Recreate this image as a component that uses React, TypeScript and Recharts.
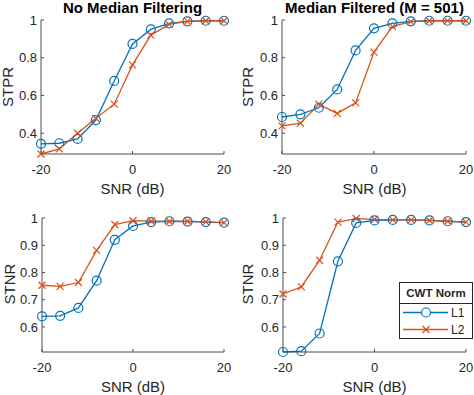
import { LineChart, Line, XAxis, YAxis, Legend } from "recharts";

const snr = [-20, -16, -12, -8, -4, 0, 4, 8, 12, 16, 20];

// STPR, no median filtering
const stprRawL1 = [0.344, 0.347, 0.37, 0.47, 0.677, 0.873, 0.95, 0.982, 0.993, 0.996, 0.996];
const stprRawL2 = [0.29, 0.317, 0.4, 0.479, 0.554, 0.762, 0.92, 0.977, 0.993, 0.996, 0.996];
// STPR, median filtered
const stprMedL1 = [0.486, 0.5, 0.535, 0.632, 0.839, 0.956, 0.982, 0.993, 0.996, 0.996, 0.996];
const stprMedL2 = [0.439, 0.453, 0.554, 0.505, 0.561, 0.83, 0.965, 0.991, 0.996, 0.996, 0.996];
// STNR, no median filtering
const stnrRawL1 = [0.639, 0.641, 0.67, 0.77, 0.92, 0.971, 0.985, 0.988, 0.987, 0.985, 0.983];
const stnrRawL2 = [0.753, 0.749, 0.763, 0.881, 0.976, 0.99, 0.988, 0.988, 0.988, 0.986, 0.983];
// STNR, median filtered
const stnrMedL1 = [0.508, 0.511, 0.576, 0.841, 0.982, 0.991, 0.993, 0.993, 0.991, 0.988, 0.985];
const stnrMedL2 = [0.721, 0.747, 0.845, 0.985, 0.998, 0.995, 0.993, 0.993, 0.991, 0.988, 0.985];

const stprTicks = [0.4, 0.6, 0.8, 1];
const stnrTicks = [0.6, 0.7, 0.8, 0.9, 1];
const snrTicks = [-20, 0, 20];

const BLUE = "#0072BD";
const RED = "#D95319";
const INK = "#262626";

const toRows = (a: number[], b: number[]) => snr.map((s, i) => ({ snr: s, l1: a[i], l2: b[i] }));

const Cross = (props: any) => {
  const { cx, cy, index } = props;
  if (cx == null || cy == null) return null;
  const d = 3.5;
  return (
    <g key={`x-${index}`}>
      <line x1={cx - d} y1={cy - d} x2={cx + d} y2={cy + d} stroke={RED} strokeWidth={1.2} />
      <line x1={cx - d} y1={cy + d} x2={cx + d} y2={cy - d} stroke={RED} strokeWidth={1.2} />
    </g>
  );
};

const LegendBox = (props: any) => {
  const payload = props.payload || [];
  return (
    <div
      style={{
        width: 74,
        height: 57,
        boxSizing: "border-box",
        border: `1px solid ${INK}`,
        background: "#fff",
        color: INK,
      }}
    >
      <div
        style={{
          height: 20,
          borderBottom: `1px solid ${INK}`,
          fontWeight: "bold",
          fontSize: 11.5,
          lineHeight: "20px",
          textAlign: "center",
        }}
      >
        CWT Norm
      </div>
      <svg width={72} height={35} style={{ display: "block" }}>
        {payload.map((e: any, i: number) => {
          const y = 8.5 + i * 17;
          return (
            <g key={e.value}>
              <line x1={3} y1={y} x2={48} y2={y} stroke={e.color} strokeWidth={1.3} />
              {i === 0 ? (
                <circle cx={26} cy={y} r={4.5} fill="#fff" stroke={e.color} strokeWidth={1.2} />
              ) : (
                <Cross cx={26} cy={y} index="leg" />
              )}
              <text x={51} y={y + 4.5} fontSize={12} fill={INK}>
                {e.value}
              </text>
            </g>
          );
        })}
      </svg>
    </div>
  );
};

type PanelProps = {
  left: number;
  top: number;
  height: number;
  plot: { x0: number; x1: number; y0: number; y1: number };
  data: { snr: number; l1: number; l2: number }[];
  yDomain: [number, number];
  yTicks: number[];
  legend?: boolean;
};

function Panel({ left, top, height, plot, data, yDomain, yTicks, legend }: PanelProps) {
  const yW = 30;
  const xH = 30;
  const margin = {
    left: plot.x0 - left - yW,
    right: left + 237 - plot.x1,
    top: plot.y0 - top,
    bottom: top + height - plot.y1 - xH,
  };
  return (
    <div style={{ position: "absolute", left, top }}>
      <LineChart width={237} height={height} data={data} margin={margin}>
        <XAxis
          type="number"
          dataKey="snr"
          domain={[-20, 20]}
          ticks={snrTicks}
          height={xH}
          tickSize={-3}
          tickMargin={14}
          stroke="#4d4d4d"
          tick={{ fill: INK, fontSize: 13 }}
        />
        <YAxis
          type="number"
          domain={yDomain}
          ticks={yTicks}
          width={yW}
          tickSize={-3}
          tickMargin={7}
          stroke="#4d4d4d"
          tick={{ fill: INK, fontSize: 13 }}
        />
        <Line
          dataKey="l1"
          name="L1"
          stroke={BLUE}
          strokeWidth={1.3}
          dot={{ r: 4.5, fill: "none", stroke: BLUE, strokeWidth: 1.2 }}
          isAnimationActive={false}
        />
        <Line
          dataKey="l2"
          name="L2"
          stroke={RED}
          strokeWidth={1.3}
          dot={Cross}
          isAnimationActive={false}
        />
        {legend && (
          <Legend
            layout="horizontal"
            verticalAlign="middle"
            align="center"
            wrapperStyle={{ position: "absolute", left: 162, top: 85, width: 74, height: 57 }}
            content={LegendBox}
          />
        )}
      </LineChart>
    </div>
  );
}

export default function App() {
  return (
    <div
      style={{
        position: "fixed",
        left: 0,
        top: 0,
        width: 474,
        height: 395,
        background: "#fff",
        fontFamily: "'Liberation Sans', Arial, sans-serif",
        overflow: "hidden",
      }}
    >
      <Panel
        left={0}
        top={0}
        height={200}
        plot={{ x0: 41, x1: 224, y0: 20, y1: 154 }}
        data={toRows(stprRawL1, stprRawL2)}
        yDomain={[0.29, 1]}
        yTicks={stprTicks}
      />
      <Panel
        left={237}
        top={0}
        height={200}
        plot={{ x0: 282, x1: 466, y0: 20, y1: 154 }}
        data={toRows(stprMedL1, stprMedL2)}
        yDomain={[0.29, 1]}
        yTicks={stprTicks}
      />
      <Panel
        left={0}
        top={197}
        height={198}
        plot={{ x0: 42, x1: 224, y0: 218, y1: 352 }}
        data={toRows(stnrRawL1, stnrRawL2)}
        yDomain={[0.508, 1]}
        yTicks={stnrTicks}
      />
      <Panel
        left={237}
        top={197}
        height={198}
        plot={{ x0: 283, x1: 466, y0: 218, y1: 352 }}
        data={toRows(stnrMedL1, stnrMedL2)}
        yDomain={[0.508, 1]}
        yTicks={stnrTicks}
        legend
      />
      <svg
        width={474}
        height={395}
        style={{ position: "absolute", left: 0, top: 0, pointerEvents: "none" }}
      >
        <g fill={INK} fontSize={15}>
          <text x={132.5} y={12.5} textAnchor="middle" fontWeight="bold" fill="#000">
            No Median Filtering
          </text>
          <text x={374.5} y={12.5} textAnchor="middle" fontWeight="bold" fill="#000">
            Median Filtered (M = 501)
          </text>
          <text x={132.5} y={194} textAnchor="middle">SNR (dB)</text>
          <text x={374.5} y={194} textAnchor="middle">SNR (dB)</text>
          <text x={133} y={391.5} textAnchor="middle">SNR (dB)</text>
          <text x={374.5} y={391.5} textAnchor="middle">SNR (dB)</text>
          <text transform="translate(13,87) rotate(-90)" textAnchor="middle">STPR</text>
          <text transform="translate(252.5,87) rotate(-90)" textAnchor="middle">STPR</text>
          <text transform="translate(14.5,284) rotate(-90)" textAnchor="middle">STNR</text>
          <text transform="translate(252.5,284) rotate(-90)" textAnchor="middle">STNR</text>
        </g>
      </svg>
    </div>
  );
}
